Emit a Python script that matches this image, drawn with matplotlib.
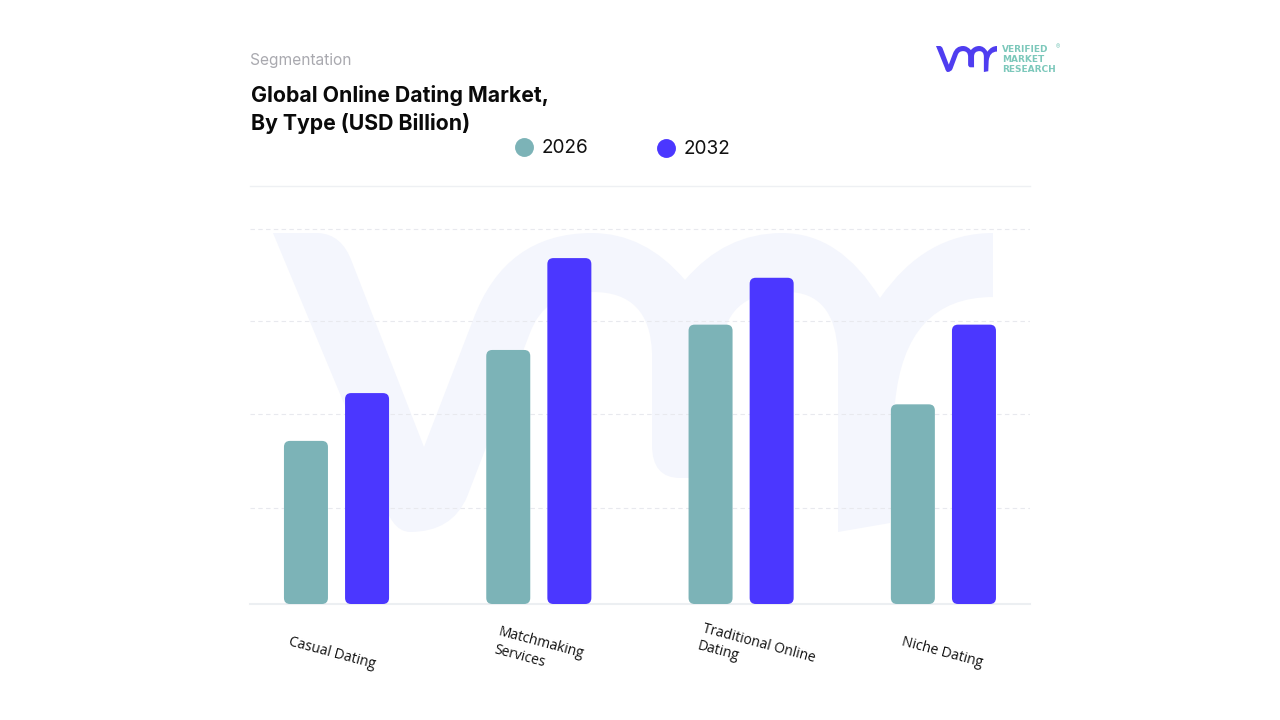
import numpy as np
import matplotlib
matplotlib.use('Agg')
import matplotlib.pyplot as plt
from matplotlib.patches import FancyBboxPatch, PathPatch
from matplotlib.path import Path
from matplotlib.transforms import Affine2D

# Data
categories = ['Casual Dating', 'Matchmaking\nServices', 'Traditional Online\nDating', 'Niche Dating']
years = ['2026', '2032']
values_2026 = [1.74, 2.71, 2.98, 2.13]
values_2032 = [2.25, 3.69, 3.48, 2.98]
y_ticks = [1.02, 2.03, 3.02, 4.0]

# Colours
TEAL = '#7cb3b7'
BLUE = '#4b37ff'
WATERMARK = '#f4f6fd'
LOGO_TEXT = '#7cc8bb'
GRID = '#e8e9ee'

plt.rcParams['font.family'] = ['Inter', 'DejaVu Sans']

fig = plt.figure(figsize=(12.8, 7.2), dpi=100, facecolor='white')

# Background layer in pixels: watermark, logo, headings, legend
bg = fig.add_axes([0, 0, 1, 1], zorder=0)
bg.set_xlim(0, 1280)
bg.set_ylim(720, 0)
bg.axis('off')


def vmr_path():
    # Outline of the vmr mark, traced at watermark size
    M, L, C = Path.MOVETO, Path.LINETO, Path.CURVE3
    steps = [
        (M, (273, 233)), (L, (318, 233)), (C, (342, 234)), (C, (352, 262)),
        (L, (424, 447)), (L, (473, 320)), (C, (505, 233)), (C, (592, 233)),
        (C, (645, 233)), (C, (685, 280)), (C, (725, 233)), (C, (782, 233)),
        (C, (840, 233)), (C, (880, 298)), (C, (925, 233)), (C, (993, 233)),
        (L, (993, 297)), (C, (905, 297)), (C, (895, 403)), (L, (890, 523)),
        (L, (838, 532)), (L, (838, 353)), (C, (835, 292)), (C, (787, 292)),
        (C, (722, 292)), (C, (722, 353)), (L, (722, 478)), (L, (680, 478)),
        (C, (652, 478)), (C, (652, 445)), (L, (652, 353)), (C, (650, 292)),
        (C, (593, 292)), (C, (545, 292)), (C, (530, 333)), (L, (467, 497)),
        (C, (452, 532)), (C, (410, 532)), (C, (390, 532)), (C, (380, 490)),
        (L, (273, 233)),
    ]
    codes = [s[0] for s in steps]
    verts = [s[1] for s in steps]
    return Path(verts, codes)


mark = vmr_path()
bg.add_patch(PathPatch(mark, facecolor=WATERMARK, edgecolor='none'))

# Same mark, small, as the logo
small = Affine2D().translate(-273, -233).scale(61 / 720, 26 / 299).translate(936, 46)
bg.add_patch(PathPatch(small.transform_path(mark), facecolor='#4f3df0', edgecolor='none'))
for y, word in zip([50, 60, 69], ['VERIFIED', 'MARKET', 'RESEARCH']):
    bg.text(1002, y, word, color=LOGO_TEXT, fontsize=6.5, family='DejaVu Sans', weight='bold',
            va='center', ha='left')
bg.text(1056, 47, '®', color=LOGO_TEXT, fontsize=4.5, va='center', ha='left')

# Headings
bg.text(250, 60, 'Segmentation', color='#a9a9af', fontsize=11.2, va='center', ha='left')
bg.text(251, 96, 'Global Online Dating Market,', color='#0a0a0a', fontsize=15.3, weight='bold',
        va='center', ha='left')
bg.text(251, 124, 'By Type (USD Billion)', color='#0a0a0a', fontsize=15.3, weight='bold',
        va='center', ha='left')

# Legend
for px, py, year, col in zip([524, 666], [147, 148], years, [TEAL, BLUE]):
    bg.scatter([px], [py], s=185, color=col, linewidths=0)
    bg.text(px + 18, py + 1, year, color='#111111', fontsize=13.7, va='center', ha='left')

# Chart
ax = fig.add_axes([250 / 1280, 116 / 720, 780 / 1280, 418 / 720], zorder=1)
ax.patch.set_alpha(0)
ax.set_xlim(-0.4276, 3.4280)
ax.set_ylim(0, 4.459)

bar_w = 0.2175
offset = 0.151
x = np.arange(len(categories))
for xs, vals, col in [(x - offset, values_2026, TEAL), (x + offset, values_2032, BLUE)]:
    for xi, v in zip(xs, vals):
        ax.add_patch(FancyBboxPatch((xi - bar_w / 2, 0), bar_w, v,
                                    boxstyle='round,pad=0,rounding_size=0.03',
                                    mutation_aspect=2.15, facecolor=col, edgecolor='none',
                                    zorder=3))

ax.set_yticks(y_ticks)
ax.set_yticklabels([])
ax.set_xticks([])
ax.tick_params(length=0)
ax.grid(axis='y', color=GRID, linestyle=(0, (4, 3)), linewidth=0.8)
ax.set_axisbelow(True)

for side in ['left', 'right']:
    ax.spines[side].set_visible(False)
ax.spines['top'].set_color('#eef0f3')
ax.spines['top'].set_linewidth(1)
ax.spines['bottom'].set_color('#eceff2')
ax.spines['bottom'].set_linewidth(1.5)

# Category labels, tilted under each group
label_dx = [-4, 0, 15, -1]
label_dy = [-49, -48, -48, -49]
for xi, name, dx, dy in zip(x, categories, label_dx, label_dy):
    ax.annotate(name, xy=(xi, 0), xytext=(dx, dy), textcoords='offset pixels',
                ha='center', va='center', ma='left', rotation=-15, rotation_mode='anchor',
                family='Open Sans', fontsize=10.0, color='#111111', linespacing=1.3,
                annotation_clip=False)

plt.savefig('out.png', dpi=100)
